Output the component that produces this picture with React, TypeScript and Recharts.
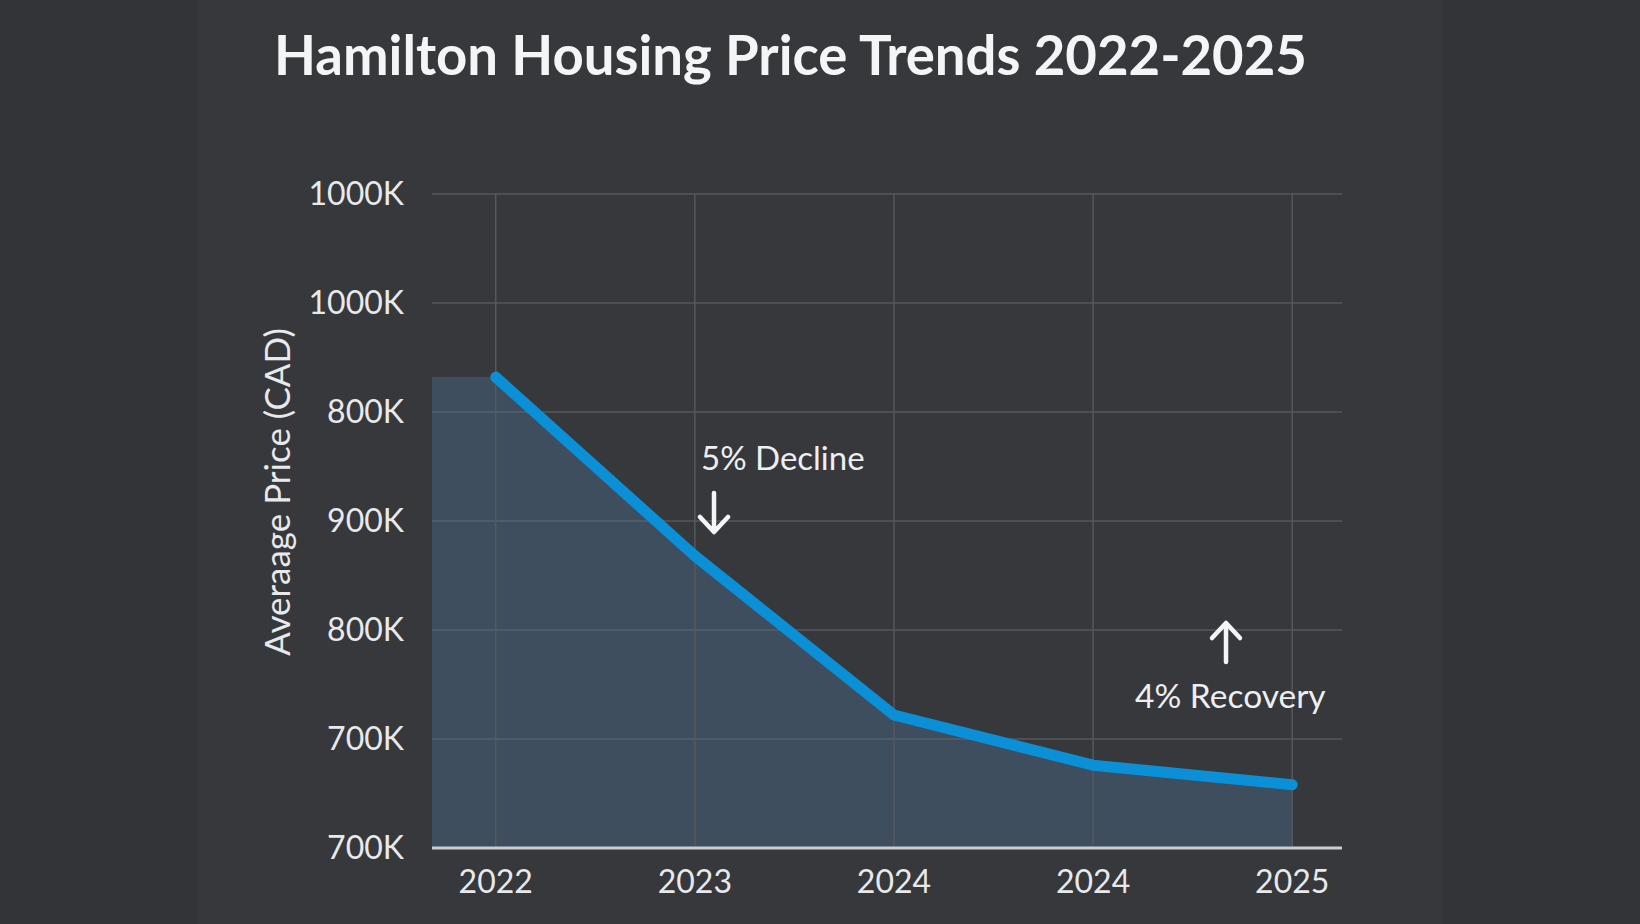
import { ComposedChart, Area, Line, XAxis, YAxis, CartesianGrid, ReferenceArea, ReferenceLine } from "recharts";

// Average price per period, in thousands of CAD
const years = ["2022", "2023", "2024", "2024", "2025"];
const prices = [916, 834, 761, 738, 729];

const yTicks = [700, 750, 800, 850, 900, 950, 1000];
const yTickLabels = ["700K", "700K", "800K", "900K", "800K", "1000K", "1000K"];
const xTicks = [0, 1, 2, 3, 4];
const xDomain: [number, number] = [-0.32, 4.25];

const chartData = prices.map((price, i) => ({ idx: i, price }));

const FONT = "Lato, 'Open Sans', sans-serif";
const GRID = "#55585d";
const tickStyle = { fontSize: 32, fill: "#e8e9ea", fontFamily: FONT };

const App = () => {
  return (
    <div
      style={{
        position: "absolute",
        left: 0,
        top: 0,
        width: 1640,
        height: 924,
        background: "#323438",
        overflow: "hidden",
      }}
    >
      <div style={{ position: "absolute", left: 197, top: 0, width: 1246, height: 924, background: "#36383c" }} />

      <div style={{ position: "absolute", left: 0, top: 0 }}>
        <ComposedChart
          width={1640}
          height={924}
          data={chartData}
          margin={{ top: 194, right: 298, bottom: 16, left: 332 }}
        >
          <CartesianGrid stroke={GRID} strokeWidth={1.5} vertical={false} />
          {xTicks.map((t) => (
            <ReferenceLine key={t} x={t} stroke={GRID} strokeWidth={1.5} />
          ))}
          <XAxis
            dataKey="idx"
            type="number"
            domain={xDomain}
            ticks={xTicks}
            tickFormatter={(v: number) => years[v]}
            height={60}
            tickSize={0}
            tickMargin={22}
            tickLine={false}
            axisLine={{ stroke: "#c9cdd1", strokeWidth: 3 }}
            tick={tickStyle}
          />
          <YAxis
            type="number"
            domain={[700, 1000]}
            ticks={yTicks}
            tickFormatter={(_v: number, i: number) => yTickLabels[i]}
            width={100}
            tickSize={0}
            tickMargin={28}
            tickLine={false}
            axisLine={false}
            tick={tickStyle}
          />
          {/* flat lead-in of the shaded area before the first year */}
          <ReferenceArea
            x1={xDomain[0]}
            x2={0}
            y1={700}
            y2={prices[0]}
            fill="#4a7090"
            fillOpacity={0.4}
            stroke="none"
          />
          <Area
            dataKey="price"
            type="linear"
            fill="#4a7090"
            fillOpacity={0.4}
            stroke="none"
            isAnimationActive={false}
          />
          <Line
            dataKey="price"
            type="linear"
            stroke="#0b8fd6"
            strokeWidth={11}
            strokeLinecap="round"
            strokeLinejoin="round"
            dot={false}
            activeDot={false}
            isAnimationActive={false}
          />
        </ComposedChart>
      </div>

      <svg
        width={1640}
        height={924}
        style={{ position: "absolute", left: 0, top: 0, pointerEvents: "none" }}
        fontFamily={FONT}
      >
        <text x={274} y={75} fontSize={54.5} fontWeight={700} fill="#f4f5f6">
          Hamilton Housing Price Trends 2022-2025
        </text>
        <text
          x={0}
          y={0}
          transform="translate(290 492) rotate(-90)"
          textAnchor="middle"
          fontSize={35}
          fill="#e8e9ea"
        >
          Averaage Price (CAD)
        </text>

        <text x={701} y={470} fontSize={33} fill="#eeeff0">5% Decline</text>
        <g stroke="#f4f5f6" strokeWidth={4.5} strokeLinecap="round" strokeLinejoin="round" fill="none">
          <path d="M714 493 L714 531 M700 517 L714 532 L728 517" />
          <path d="M1226 662 L1226 624 M1212 638 L1226 623 L1240 638" />
        </g>
        <text x={1135} y={708} fontSize={33.5} fill="#eeeff0">4% Recovery</text>
      </svg>
    </div>
  );
};

export default App;
